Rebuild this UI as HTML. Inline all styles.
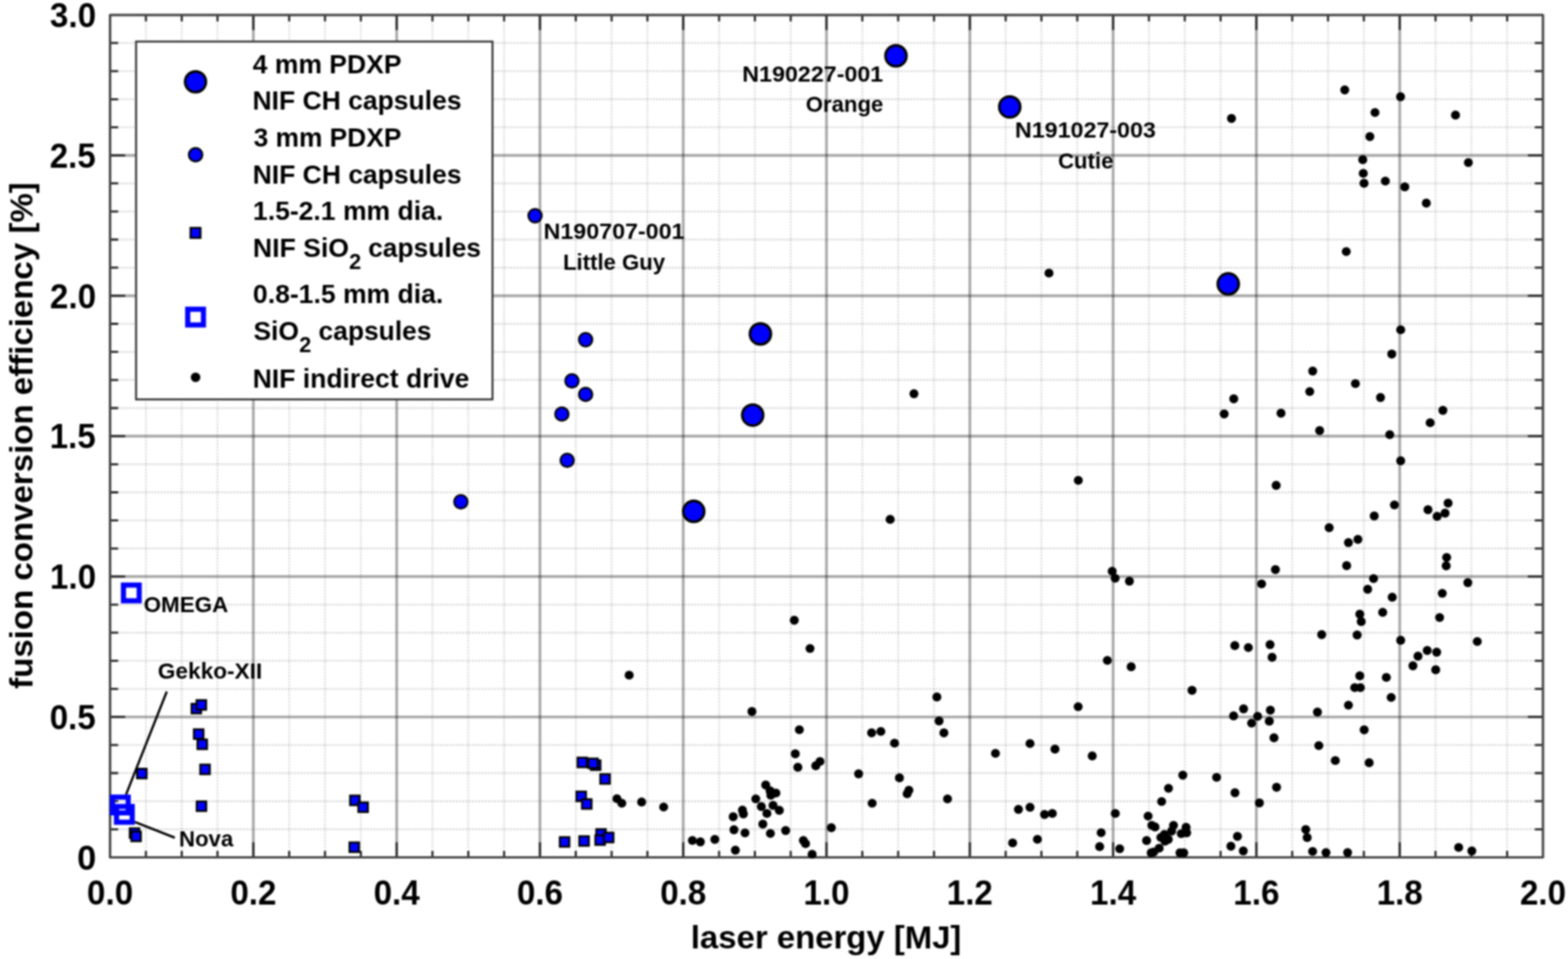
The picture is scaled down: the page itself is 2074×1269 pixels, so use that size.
<!DOCTYPE html>
<html><head><meta charset="utf-8"><title>fusion conversion efficiency vs laser energy</title>
<style>html,body{margin:0;padding:0;background:#fff;}svg{display:block;}</style></head>
<body>
<svg width="2074" height="1269" viewBox="0 0 2074 1269">
<rect width="100%" height="100%" fill="#fff"/>
<defs><filter id="soft" x="-1%" y="-1%" width="102%" height="102%" color-interpolation-filters="sRGB"><feGaussianBlur stdDeviation="1.0"/></filter></defs>
<g filter="url(#soft)">
<rect width="100%" height="100%" fill="#fff"/>
<path d="M193.0 19.8V1134.5M240.4 19.8V1134.5M287.7 19.8V1134.5M382.5 19.8V1134.5M429.9 19.8V1134.5M477.3 19.8V1134.5M572.0 19.8V1134.5M619.4 19.8V1134.5M666.8 19.8V1134.5M761.6 19.8V1134.5M809.0 19.8V1134.5M856.3 19.8V1134.5M951.1 19.8V1134.5M998.5 19.8V1134.5M1045.9 19.8V1134.5M1140.6 19.8V1134.5M1188.0 19.8V1134.5M1235.4 19.8V1134.5M1330.2 19.8V1134.5M1377.5 19.8V1134.5M1424.9 19.8V1134.5M1519.7 19.8V1134.5M1567.1 19.8V1134.5M1614.5 19.8V1134.5M1709.2 19.8V1134.5M1756.6 19.8V1134.5M1804.0 19.8V1134.5M1898.8 19.8V1134.5M1946.1 19.8V1134.5M1993.5 19.8V1134.5" stroke="#000" stroke-opacity="0.16" stroke-width="2.4" stroke-dasharray="2.1 2.1" fill="none"/>
<path d="M145.6 1097.3H2040.9M145.6 1060.2H2040.9M145.6 1023.0H2040.9M145.6 985.9H2040.9M145.6 911.6H2040.9M145.6 874.4H2040.9M145.6 837.2H2040.9M145.6 800.1H2040.9M145.6 725.8H2040.9M145.6 688.6H2040.9M145.6 651.5H2040.9M145.6 614.3H2040.9M145.6 540.0H2040.9M145.6 502.8H2040.9M145.6 465.7H2040.9M145.6 428.5H2040.9M145.6 354.2H2040.9M145.6 317.0H2040.9M145.6 279.9H2040.9M145.6 242.7H2040.9M145.6 168.4H2040.9M145.6 131.3H2040.9M145.6 94.1H2040.9M145.6 56.9H2040.9" stroke="#000" stroke-opacity="0.19" stroke-width="2.4" stroke-dasharray="2.1 2.1" fill="none"/>
<path d="M335.1 19.8V1134.5M524.7 19.8V1134.5M714.2 19.8V1134.5M903.7 19.8V1134.5M1093.2 19.8V1134.5M1282.8 19.8V1134.5M1472.3 19.8V1134.5M1661.8 19.8V1134.5M1851.4 19.8V1134.5" stroke="#000" stroke-opacity="0.34" stroke-width="3.6" fill="none"/>
<path d="M145.6 948.7H2040.9M145.6 762.9H2040.9M145.6 577.1H2040.9M145.6 391.4H2040.9M145.6 205.6H2040.9" stroke="#000" stroke-opacity="0.34" stroke-width="3.6" fill="none"/>
<path d="M193.0 1134.5v-8.5M193.0 19.8v8.5M240.4 1134.5v-8.5M240.4 19.8v8.5M287.7 1134.5v-8.5M287.7 19.8v8.5M335.1 1134.5v-20M335.1 19.8v20M382.5 1134.5v-8.5M382.5 19.8v8.5M429.9 1134.5v-8.5M429.9 19.8v8.5M477.3 1134.5v-8.5M477.3 19.8v8.5M524.7 1134.5v-20M524.7 19.8v20M572.0 1134.5v-8.5M572.0 19.8v8.5M619.4 1134.5v-8.5M619.4 19.8v8.5M666.8 1134.5v-8.5M666.8 19.8v8.5M714.2 1134.5v-20M714.2 19.8v20M761.6 1134.5v-8.5M761.6 19.8v8.5M809.0 1134.5v-8.5M809.0 19.8v8.5M856.3 1134.5v-8.5M856.3 19.8v8.5M903.7 1134.5v-20M903.7 19.8v20M951.1 1134.5v-8.5M951.1 19.8v8.5M998.5 1134.5v-8.5M998.5 19.8v8.5M1045.9 1134.5v-8.5M1045.9 19.8v8.5M1093.2 1134.5v-20M1093.2 19.8v20M1140.6 1134.5v-8.5M1140.6 19.8v8.5M1188.0 1134.5v-8.5M1188.0 19.8v8.5M1235.4 1134.5v-8.5M1235.4 19.8v8.5M1282.8 1134.5v-20M1282.8 19.8v20M1330.2 1134.5v-8.5M1330.2 19.8v8.5M1377.5 1134.5v-8.5M1377.5 19.8v8.5M1424.9 1134.5v-8.5M1424.9 19.8v8.5M1472.3 1134.5v-20M1472.3 19.8v20M1519.7 1134.5v-8.5M1519.7 19.8v8.5M1567.1 1134.5v-8.5M1567.1 19.8v8.5M1614.5 1134.5v-8.5M1614.5 19.8v8.5M1661.8 1134.5v-20M1661.8 19.8v20M1709.2 1134.5v-8.5M1709.2 19.8v8.5M1756.6 1134.5v-8.5M1756.6 19.8v8.5M1804.0 1134.5v-8.5M1804.0 19.8v8.5M1851.4 1134.5v-20M1851.4 19.8v20M1898.8 1134.5v-8.5M1898.8 19.8v8.5M1946.1 1134.5v-8.5M1946.1 19.8v8.5M1993.5 1134.5v-8.5M1993.5 19.8v8.5M145.6 1097.3h10.8M2040.9 1097.3h-10.8M145.6 1060.2h10.8M2040.9 1060.2h-10.8M145.6 1023.0h10.8M2040.9 1023.0h-10.8M145.6 985.9h10.8M2040.9 985.9h-10.8M145.6 948.7h20M2040.9 948.7h-20M145.6 911.6h10.8M2040.9 911.6h-10.8M145.6 874.4h10.8M2040.9 874.4h-10.8M145.6 837.2h10.8M2040.9 837.2h-10.8M145.6 800.1h10.8M2040.9 800.1h-10.8M145.6 762.9h20M2040.9 762.9h-20M145.6 725.8h10.8M2040.9 725.8h-10.8M145.6 688.6h10.8M2040.9 688.6h-10.8M145.6 651.5h10.8M2040.9 651.5h-10.8M145.6 614.3h10.8M2040.9 614.3h-10.8M145.6 577.1h20M2040.9 577.1h-20M145.6 540.0h10.8M2040.9 540.0h-10.8M145.6 502.8h10.8M2040.9 502.8h-10.8M145.6 465.7h10.8M2040.9 465.7h-10.8M145.6 428.5h10.8M2040.9 428.5h-10.8M145.6 391.4h20M2040.9 391.4h-20M145.6 354.2h10.8M2040.9 354.2h-10.8M145.6 317.0h10.8M2040.9 317.0h-10.8M145.6 279.9h10.8M2040.9 279.9h-10.8M145.6 242.7h10.8M2040.9 242.7h-10.8M145.6 205.6h20M2040.9 205.6h-20M145.6 168.4h10.8M2040.9 168.4h-10.8M145.6 131.3h10.8M2040.9 131.3h-10.8M145.6 94.1h10.8M2040.9 94.1h-10.8M145.6 56.9h10.8M2040.9 56.9h-10.8" stroke="#262626" stroke-width="2.8" fill="none"/>
<rect x="145.6" y="19.8" width="1895.3" height="1114.7" fill="none" stroke="#444" stroke-width="3.2" stroke-linejoin="round"/>
<g font-family="'Liberation Sans', Arial, sans-serif" font-weight="bold" font-size="45.5" fill="#000"><text x="145.60" y="1197" text-anchor="middle" textLength="60.97" lengthAdjust="spacingAndGlyphs">0.0</text><text x="335.13" y="1197" text-anchor="middle" textLength="60.97" lengthAdjust="spacingAndGlyphs">0.2</text><text x="524.66" y="1197" text-anchor="middle" textLength="60.97" lengthAdjust="spacingAndGlyphs">0.4</text><text x="714.19" y="1197" text-anchor="middle" textLength="60.97" lengthAdjust="spacingAndGlyphs">0.6</text><text x="903.72" y="1197" text-anchor="middle" textLength="60.97" lengthAdjust="spacingAndGlyphs">0.8</text><text x="1093.25" y="1197" text-anchor="middle" textLength="60.97" lengthAdjust="spacingAndGlyphs">1.0</text><text x="1282.78" y="1197" text-anchor="middle" textLength="60.97" lengthAdjust="spacingAndGlyphs">1.2</text><text x="1472.31" y="1197" text-anchor="middle" textLength="60.97" lengthAdjust="spacingAndGlyphs">1.4</text><text x="1661.84" y="1197" text-anchor="middle" textLength="60.97" lengthAdjust="spacingAndGlyphs">1.6</text><text x="1851.37" y="1197" text-anchor="middle" textLength="60.97" lengthAdjust="spacingAndGlyphs">1.8</text><text x="2040.90" y="1197" text-anchor="middle" textLength="60.97" lengthAdjust="spacingAndGlyphs">2.0</text><text x="127.20" y="1150.8" text-anchor="end" textLength="25.30" lengthAdjust="spacingAndGlyphs">0</text><text x="126.61" y="965.0" text-anchor="end" textLength="60.97" lengthAdjust="spacingAndGlyphs">0.5</text><text x="127.09" y="779.2" text-anchor="end" textLength="60.97" lengthAdjust="spacingAndGlyphs">1.0</text><text x="126.61" y="593.4" text-anchor="end" textLength="60.97" lengthAdjust="spacingAndGlyphs">1.5</text><text x="127.09" y="407.7" text-anchor="end" textLength="60.97" lengthAdjust="spacingAndGlyphs">2.0</text><text x="126.61" y="221.9" text-anchor="end" textLength="60.97" lengthAdjust="spacingAndGlyphs">2.5</text><text x="127.09" y="36.1" text-anchor="end" textLength="60.97" lengthAdjust="spacingAndGlyphs">3.0</text></g>
<text font-family="'Liberation Sans', Arial, sans-serif" font-weight="bold" font-size="43" x="913.76" y="1255.3" textLength="357.86" lengthAdjust="spacingAndGlyphs">laser energy [MJ]</text>
<text font-family="'Liberation Sans', Arial, sans-serif" font-weight="bold" font-size="43" transform="translate(43.4 911.54) rotate(-90)" x="0" y="0" textLength="670.40" lengthAdjust="spacingAndGlyphs">fusion conversion efficiency [%]</text>
<path d="M220.6 915.1L166.6 1051.7M178.2 1087.6L231.2 1108.5" stroke="#000" stroke-width="3" fill="none"/>
<g fill="#000"><circle cx="1778.7" cy="119.0" r="5.95"/><circle cx="1852.5" cy="128.0" r="5.95"/><circle cx="1818.7" cy="148.9" r="5.95"/><circle cx="1925.2" cy="152.2" r="5.95"/><circle cx="1811.9" cy="180.7" r="5.95"/><circle cx="1802.5" cy="211.2" r="5.95"/><circle cx="1942.2" cy="215.1" r="5.95"/><circle cx="1803.2" cy="229.4" r="5.95"/><circle cx="1832.4" cy="239.6" r="5.95"/><circle cx="1804.2" cy="242.5" r="5.95"/><circle cx="1858.1" cy="247.3" r="5.95"/><circle cx="1886.6" cy="268.8" r="5.95"/><circle cx="1780.7" cy="332.9" r="5.95"/><circle cx="1852.7" cy="436.4" r="5.95"/><circle cx="1840.9" cy="468.5" r="5.95"/><circle cx="1736.3" cy="491.0" r="5.95"/><circle cx="1792.8" cy="507.6" r="5.95"/><circle cx="1732.4" cy="518.1" r="5.95"/><circle cx="1826.0" cy="526.0" r="5.95"/><circle cx="1694.4" cy="546.8" r="5.95"/><circle cx="1908.5" cy="543.0" r="5.95"/><circle cx="1891.7" cy="559.4" r="5.95"/><circle cx="1745.5" cy="569.7" r="5.95"/><circle cx="1838.2" cy="575.1" r="5.95"/><circle cx="1852.7" cy="609.8" r="5.95"/><circle cx="1688.0" cy="642.3" r="5.95"/><circle cx="1844.4" cy="668.1" r="5.95"/><circle cx="1915.4" cy="665.8" r="5.95"/><circle cx="1888.8" cy="674.5" r="5.95"/><circle cx="1911.4" cy="679.0" r="5.95"/><circle cx="1900.9" cy="683.2" r="5.95"/><circle cx="1817.7" cy="682.8" r="5.95"/><circle cx="1758.1" cy="698.3" r="5.95"/><circle cx="1796.1" cy="713.7" r="5.95"/><circle cx="1783.6" cy="718.0" r="5.95"/><circle cx="1913.5" cy="737.6" r="5.95"/><circle cx="1912.9" cy="748.8" r="5.95"/><circle cx="1781.2" cy="748.5" r="5.95"/><circle cx="1687.0" cy="753.7" r="5.95"/><circle cx="1816.8" cy="765.6" r="5.95"/><circle cx="1668.7" cy="772.6" r="5.95"/><circle cx="1941.5" cy="771.0" r="5.95"/><circle cx="1809.0" cy="779.7" r="5.95"/><circle cx="1907.7" cy="785.1" r="5.95"/><circle cx="1841.5" cy="790.3" r="5.95"/><circle cx="1798.6" cy="812.8" r="5.95"/><circle cx="1828.9" cy="810.3" r="5.95"/><circle cx="1904.2" cy="817.1" r="5.95"/><circle cx="1800.5" cy="822.5" r="5.95"/><circle cx="1748.2" cy="839.8" r="5.95"/><circle cx="1795.1" cy="840.2" r="5.95"/><circle cx="1852.7" cy="847.2" r="5.95"/><circle cx="1954.0" cy="848.9" r="5.95"/><circle cx="1679.9" cy="853.0" r="5.95"/><circle cx="1682.6" cy="869.8" r="5.95"/><circle cx="1887.8" cy="860.7" r="5.95"/><circle cx="1900.3" cy="863.0" r="5.95"/><circle cx="1875.6" cy="868.2" r="5.95"/><circle cx="1868.9" cy="881.0" r="5.95"/><circle cx="1899.0" cy="886.2" r="5.95"/><circle cx="1798.6" cy="894.3" r="5.95"/><circle cx="1833.7" cy="896.4" r="5.95"/><circle cx="1791.9" cy="909.9" r="5.95"/><circle cx="1799.4" cy="909.9" r="5.95"/><circle cx="1840.1" cy="922.9" r="5.95"/><circle cx="1783.6" cy="933.1" r="5.95"/><circle cx="1680.3" cy="939.8" r="5.95"/><circle cx="1742.6" cy="942.2" r="5.95"/><circle cx="1663.5" cy="947.9" r="5.95"/><circle cx="1678.9" cy="954.3" r="5.95"/><circle cx="1804.4" cy="965.7" r="5.95"/><circle cx="1685.1" cy="976.3" r="5.95"/><circle cx="1744.4" cy="986.6" r="5.95"/><circle cx="1766.2" cy="1006.4" r="5.95"/><circle cx="1811.0" cy="1009.2" r="5.95"/><circle cx="1688.5" cy="1041.7" r="5.95"/><circle cx="1665.8" cy="1062.5" r="5.95"/><circle cx="1727.1" cy="1097.6" r="5.95"/><circle cx="1729.0" cy="1108.3" r="5.95"/><circle cx="1736.2" cy="1126.6" r="5.95"/><circle cx="1753.9" cy="1128.1" r="5.95"/><circle cx="1782.5" cy="1128.1" r="5.95"/><circle cx="1929.4" cy="1121.4" r="5.95"/><circle cx="1946.8" cy="1126.0" r="5.95"/><circle cx="1628.9" cy="156.8" r="5.95"/><circle cx="1387.5" cy="361.4" r="5.95"/><circle cx="1631.9" cy="527.8" r="5.95"/><circle cx="1619.2" cy="547.8" r="5.95"/><circle cx="1426.3" cy="635.6" r="5.95"/><circle cx="1471.1" cy="755.9" r="5.95"/><circle cx="1475.0" cy="765.1" r="5.95"/><circle cx="1493.9" cy="769.0" r="5.95"/><circle cx="1633.3" cy="854.2" r="5.95"/><circle cx="1651.2" cy="856.9" r="5.95"/><circle cx="1464.7" cy="873.9" r="5.95"/><circle cx="1496.2" cy="882.2" r="5.95"/><circle cx="1576.7" cy="913.5" r="5.95"/><circle cx="1426.1" cy="935.1" r="5.95"/><circle cx="1644.9" cy="938.0" r="5.95"/><circle cx="1631.7" cy="947.3" r="5.95"/><circle cx="1655.5" cy="956.9" r="5.95"/><circle cx="1362.4" cy="983.9" r="5.95"/><circle cx="1395.4" cy="991.3" r="5.95"/><circle cx="1316.7" cy="996.9" r="5.95"/><circle cx="1444.7" cy="1000.3" r="5.95"/><circle cx="1564.5" cy="1025.7" r="5.95"/><circle cx="1609.2" cy="1028.6" r="5.95"/><circle cx="1545.6" cy="1043.1" r="5.95"/><circle cx="1633.5" cy="1049.0" r="5.95"/><circle cx="1536.5" cy="1060.6" r="5.95"/><circle cx="1347.1" cy="1071.0" r="5.95"/><circle cx="1362.4" cy="1068.3" r="5.95"/><circle cx="1381.6" cy="1077.8" r="5.95"/><circle cx="1391.9" cy="1076.4" r="5.95"/><circle cx="1475.2" cy="1076.4" r="5.95"/><circle cx="1456.5" cy="1101.9" r="5.95"/><circle cx="1372.2" cy="1110.6" r="5.95"/><circle cx="1339.4" cy="1115.4" r="5.95"/><circle cx="1454.5" cy="1120.2" r="5.95"/><circle cx="1481.0" cy="1123.1" r="5.95"/><circle cx="1636.8" cy="1106.7" r="5.95"/><circle cx="1628.1" cy="1119.8" r="5.95"/><circle cx="1644.5" cy="1126.0" r="5.95"/><circle cx="1518.6" cy="1079.9" r="5.95"/><circle cx="1523.5" cy="1092.1" r="5.95"/><circle cx="1527.7" cy="1094.3" r="5.95"/><circle cx="1516.6" cy="1112.2" r="5.95"/><circle cx="1552.2" cy="1092.1" r="5.95"/><circle cx="1549.7" cy="1099.8" r="5.95"/><circle cx="1540.1" cy="1104.2" r="5.95"/><circle cx="1535.4" cy="1108.1" r="5.95"/><circle cx="1540.9" cy="1113.0" r="5.95"/><circle cx="1545.3" cy="1110.8" r="5.95"/><circle cx="1533.2" cy="1122.4" r="5.95"/><circle cx="1526.0" cy="1127.4" r="5.95"/><circle cx="1522.7" cy="1128.5" r="5.95"/><circle cx="1568.8" cy="1094.8" r="5.95"/><circle cx="1562.4" cy="1103.1" r="5.95"/><circle cx="1569.6" cy="1102.0" r="5.95"/><circle cx="1560.8" cy="1128.5" r="5.95"/><circle cx="1565.7" cy="1128.5" r="5.95"/><circle cx="1208.9" cy="521.0" r="5.95"/><circle cx="1177.4" cy="687.3" r="5.95"/><circle cx="1050.6" cy="820.8" r="5.95"/><circle cx="1071.4" cy="858.1" r="5.95"/><circle cx="994.6" cy="941.5" r="5.95"/><circle cx="1239.2" cy="922.2" r="5.95"/><circle cx="1242.1" cy="954.0" r="5.95"/><circle cx="1248.5" cy="969.8" r="5.95"/><circle cx="1057.3" cy="965.6" r="5.95"/><circle cx="1152.9" cy="969.8" r="5.95"/><circle cx="1165.1" cy="967.9" r="5.95"/><circle cx="1183.2" cy="983.4" r="5.95"/><circle cx="1051.9" cy="997.5" r="5.95"/><circle cx="1055.3" cy="1015.3" r="5.95"/><circle cx="1079.0" cy="1013.2" r="5.95"/><circle cx="1084.6" cy="1007.6" r="5.95"/><circle cx="1135.7" cy="1024.0" r="5.95"/><circle cx="1189.7" cy="1029.2" r="5.95"/><circle cx="1202.2" cy="1045.6" r="5.95"/><circle cx="1199.9" cy="1050.4" r="5.95"/><circle cx="1253.3" cy="1057.1" r="5.95"/><circle cx="1153.6" cy="1062.9" r="5.95"/><circle cx="1012.8" cy="1038.8" r="5.95"/><circle cx="1018.6" cy="1046.5" r="5.95"/><circle cx="1026.3" cy="1049.4" r="5.95"/><circle cx="1019.6" cy="1052.3" r="5.95"/><circle cx="999.7" cy="1057.1" r="5.95"/><circle cx="1007.0" cy="1067.2" r="5.95"/><circle cx="1022.5" cy="1065.8" r="5.95"/><circle cx="1030.8" cy="1072.2" r="5.95"/><circle cx="1014.4" cy="1076.4" r="5.95"/><circle cx="982.0" cy="1072.0" r="5.95"/><circle cx="983.3" cy="1077.0" r="5.95"/><circle cx="969.8" cy="1080.7" r="5.95"/><circle cx="1009.0" cy="1090.5" r="5.95"/><circle cx="970.8" cy="1098.0" r="5.95"/><circle cx="985.4" cy="1102.1" r="5.95"/><circle cx="1019.0" cy="1102.9" r="5.95"/><circle cx="1039.2" cy="1099.0" r="5.95"/><circle cx="1099.6" cy="1095.3" r="5.95"/><circle cx="915.8" cy="1112.1" r="5.95"/><circle cx="926.4" cy="1114.0" r="5.95"/><circle cx="945.5" cy="1110.8" r="5.95"/><circle cx="972.7" cy="1125.0" r="5.95"/><circle cx="1062.6" cy="1112.1" r="5.95"/><circle cx="1065.5" cy="1116.4" r="5.95"/><circle cx="1074.2" cy="1130.4" r="5.95"/><circle cx="832.2" cy="893.4" r="5.95"/><circle cx="816.0" cy="1056.9" r="5.95"/><circle cx="822.5" cy="1062.9" r="5.95"/><circle cx="848.7" cy="1061.2" r="5.95"/><circle cx="877.8" cy="1067.9" r="5.95"/></g>
<g fill="#0000ff" stroke="#000" stroke-width="2.6"><rect x="253.4" y="931.4" width="12.6" height="12.6"/><rect x="260.0" y="926.5" width="12.6" height="12.6"/><rect x="256.5" y="965.1" width="12.6" height="12.6"/><rect x="261.2" y="978.6" width="12.6" height="12.6"/><rect x="264.9" y="1011.8" width="12.6" height="12.6"/><rect x="260.2" y="1060.5" width="12.6" height="12.6"/><rect x="181.3" y="1017.3" width="12.6" height="12.6"/><rect x="171.7" y="1096.1" width="12.6" height="12.6"/><rect x="173.7" y="1100.5" width="12.6" height="12.6"/><rect x="463.1" y="1052.8" width="12.6" height="12.6"/><rect x="474.0" y="1061.9" width="12.6" height="12.6"/><rect x="462.3" y="1114.8" width="12.6" height="12.6"/><rect x="763.9" y="1002.6" width="12.6" height="12.6"/><rect x="781.6" y="1006.2" width="12.6" height="12.6"/><rect x="778.1" y="1003.8" width="12.6" height="12.6"/><rect x="794.0" y="1024.5" width="12.6" height="12.6"/><rect x="762.5" y="1047.5" width="12.6" height="12.6"/><rect x="769.8" y="1057.6" width="12.6" height="12.6"/><rect x="740.5" y="1107.8" width="12.6" height="12.6"/><rect x="766.3" y="1106.6" width="12.6" height="12.6"/><rect x="788.7" y="1097.2" width="12.6" height="12.6"/><rect x="787.5" y="1105.4" width="12.6" height="12.6"/><rect x="798.8" y="1101.9" width="12.6" height="12.6"/></g>
<g fill="none" stroke="#0000ff" stroke-width="6.8"><rect x="163.3" y="774.2" width="20.8" height="20.8"/><rect x="148.8" y="1054.8" width="20.8" height="20.8"/><rect x="154.1" y="1067.2" width="20.8" height="20.8"/></g>
<g fill="#0000ff" stroke="#000" stroke-width="2.5"><circle cx="707.7" cy="285.5" r="8.9"/><circle cx="774.6" cy="449.5" r="8.9"/><circle cx="756.5" cy="504.0" r="8.9"/><circle cx="774.6" cy="521.9" r="8.9"/><circle cx="743.2" cy="547.9" r="8.9"/><circle cx="750.2" cy="609.1" r="8.9"/><circle cx="609.6" cy="664.0" r="8.9"/></g>
<g fill="#0000ff" stroke="#000" stroke-width="3.4"><circle cx="1185.1" cy="73.9" r="13.9"/><circle cx="1335.6" cy="141.5" r="13.9"/><circle cx="1624.6" cy="375.7" r="13.9"/><circle cx="1005.8" cy="441.9" r="13.9"/><circle cx="995.6" cy="549.3" r="13.9"/><circle cx="917.6" cy="676.7" r="13.9"/></g>
<text font-family="'Liberation Sans', Arial, sans-serif" font-weight="bold" font-size="30" x="981.85" y="108.3" textLength="186.38" lengthAdjust="spacingAndGlyphs">N190227-001</text>
<text font-family="'Liberation Sans', Arial, sans-serif" font-weight="bold" font-size="30" x="1065.78" y="148.2" textLength="102.63" lengthAdjust="spacingAndGlyphs">Orange</text>
<text font-family="'Liberation Sans', Arial, sans-serif" font-weight="bold" font-size="30" x="1342.55" y="182.1" textLength="186.33" lengthAdjust="spacingAndGlyphs">N191027-003</text>
<text font-family="'Liberation Sans', Arial, sans-serif" font-weight="bold" font-size="30" x="1399.38" y="223.1" textLength="73.40" lengthAdjust="spacingAndGlyphs">Cutie</text>
<text font-family="'Liberation Sans', Arial, sans-serif" font-weight="bold" font-size="30" x="719.05" y="316.0" textLength="186.38" lengthAdjust="spacingAndGlyphs">N190707-001</text>
<text font-family="'Liberation Sans', Arial, sans-serif" font-weight="bold" font-size="30" x="744.65" y="357.0" textLength="135.04" lengthAdjust="spacingAndGlyphs">Little Guy</text>
<text font-family="'Liberation Sans', Arial, sans-serif" font-weight="bold" font-size="30" x="189.97" y="809.5" textLength="111.86" lengthAdjust="spacingAndGlyphs">OMEGA</text>
<text font-family="'Liberation Sans', Arial, sans-serif" font-weight="bold" font-size="30" x="208.85" y="898.0" textLength="137.98" lengthAdjust="spacingAndGlyphs">Gekko-XII</text>
<text font-family="'Liberation Sans', Arial, sans-serif" font-weight="bold" font-size="30" x="236.74" y="1120.2" textLength="71.77" lengthAdjust="spacingAndGlyphs">Nova</text>
<rect x="180.0" y="55.0" width="471.4" height="473.5" fill="#fff" stroke="#333" stroke-width="2.6"/>
<text font-family="'Liberation Sans', Arial, sans-serif" font-weight="bold" font-size="34.4" x="334.29" y="96.9" textLength="196.79" lengthAdjust="spacingAndGlyphs">4 mm PDXP</text>
<text font-family="'Liberation Sans', Arial, sans-serif" font-weight="bold" font-size="34.4" x="334.02" y="145.0" textLength="276.40" lengthAdjust="spacingAndGlyphs">NIF CH capsules</text>
<text font-family="'Liberation Sans', Arial, sans-serif" font-weight="bold" font-size="34.4" x="335.44" y="194.0" textLength="195.53" lengthAdjust="spacingAndGlyphs">3 mm PDXP</text>
<text font-family="'Liberation Sans', Arial, sans-serif" font-weight="bold" font-size="34.4" x="334.22" y="242.6" textLength="276.30" lengthAdjust="spacingAndGlyphs">NIF CH capsules</text>
<text font-family="'Liberation Sans', Arial, sans-serif" font-weight="bold" font-size="34.4" x="334.61" y="291.4" textLength="251.70" lengthAdjust="spacingAndGlyphs">1.5-2.1 mm dia.</text>
<text font-family="'Liberation Sans', Arial, sans-serif" font-weight="bold" font-size="34.4" x="334.60" y="339.5" textLength="127.17" lengthAdjust="spacingAndGlyphs">NIF SiO</text>
<text font-family="'Liberation Sans', Arial, sans-serif" font-weight="bold" font-size="34.4" x="486.94" y="339.5" textLength="149.30" lengthAdjust="spacingAndGlyphs">capsules</text>
<text font-family="'Liberation Sans', Arial, sans-serif" font-weight="bold" font-size="34.4" x="334.63" y="401.4" textLength="251.68" lengthAdjust="spacingAndGlyphs">0.8-1.5 mm dia.</text>
<text font-family="'Liberation Sans', Arial, sans-serif" font-weight="bold" font-size="34.4" x="335.19" y="449.5" textLength="60.27" lengthAdjust="spacingAndGlyphs">SiO</text>
<text font-family="'Liberation Sans', Arial, sans-serif" font-weight="bold" font-size="34.4" x="421.34" y="449.5" textLength="149.30" lengthAdjust="spacingAndGlyphs">capsules</text>
<text font-family="'Liberation Sans', Arial, sans-serif" font-weight="bold" font-size="34.4" x="334.21" y="513.0" textLength="286.67" lengthAdjust="spacingAndGlyphs">NIF indirect drive</text>
<text font-family="'Liberation Sans', Arial, sans-serif" font-weight="bold" font-size="28.6" x="461.69" y="355.7" textLength="16.02" lengthAdjust="spacingAndGlyphs">2</text>
<text font-family="'Liberation Sans', Arial, sans-serif" font-weight="bold" font-size="28.6" x="395.69" y="466.3" textLength="16.02" lengthAdjust="spacingAndGlyphs">2</text>
<circle cx="258.6" cy="108.3" r="13.8" fill="#0000ff" stroke="#000" stroke-width="3.4"/>
<circle cx="258.7" cy="204.8" r="9.0" fill="#0000ff" stroke="#000" stroke-width="2.5"/>
<rect x="252.0" y="301.6" width="13.2" height="13.2" fill="#0000ff" stroke="#000" stroke-width="2.6"/>
<rect x="248.3" y="409.2" width="20.8" height="20.8" fill="none" stroke="#0000ff" stroke-width="6.8"/>
<circle cx="258.7" cy="499.3" r="6.3" fill="#000"/>
</g>
</svg>
</body></html>
